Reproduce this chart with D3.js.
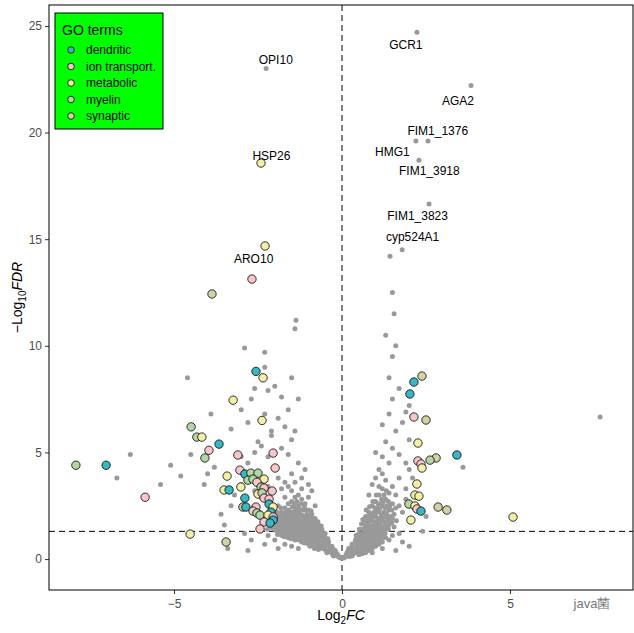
<!DOCTYPE html>
<html>
<head>
<meta charset="utf-8">
<script src="https://cdn.jsdelivr.net/npm/d3@7"></script>
<style>
  body { margin: 0; background: #fff; }
  text { font-family: Arial, "Liberation Sans", sans-serif; }
</style>
</head>
<body>
<div id="chart"></div>
<script>
// GO term categories and fills
var goTerms = ['dendritic', 'ion transport.', 'metabolic', 'myelin', 'synaptic'];
var goColors = ['#3bb6c3', '#f7c6cb', '#f3efa6', '#b3d6a6', '#d1d2a6'];

// gray background genes [log2FC, -log10FDR]
var grayGenes = [
  [-0.1,0.1],[-0.2,0.2],[-0.2,0.4],[-0.3,0.3],[-0.3,0.6],[-0.4,0.4],[-0.4,0.8],[-0.5,0.5],[-0.5,0.9],[-0.5,1.2],
  [-0.6,0.6],[-0.6,1.0],[-0.6,1.4],[-0.7,0.7],[-0.7,1.1],[-0.7,1.6],[-0.8,0.6],[-0.8,1.0],[-0.8,1.4],[-0.8,1.9],
  [-0.9,0.8],[-0.9,1.2],[-0.9,1.7],[-0.9,2.1],[-1.0,0.7],[-1.0,1.0],[-1.0,1.4],[-1.0,1.8],[-1.0,2.3],[-1.1,0.9],
  [-1.1,1.3],[-1.1,1.6],[-1.1,2.0],[-1.1,2.6],[-1.2,0.8],[-1.2,1.1],[-1.2,1.5],[-1.2,1.9],[-1.2,2.3],[-1.2,2.8],
  [-1.3,1.0],[-1.3,1.3],[-1.3,1.7],[-1.3,2.1],[-1.3,2.5],[-1.3,3.0],[-1.4,0.9],[-1.4,1.2],[-1.4,1.6],[-1.4,2.0],
  [-1.4,2.4],[-1.4,2.9],[-1.5,1.1],[-1.5,1.4],[-1.5,1.8],[-1.5,2.2],[-1.5,2.7],[-1.5,3.2],[-1.6,1.0],[-1.6,1.3],
  [-1.6,1.7],[-1.6,2.1],[-1.6,2.6],[-1.7,1.2],[-1.7,1.5],[-1.7,1.9],[-1.7,2.4],[-1.7,2.9],[-1.8,1.1],[-1.8,1.4],
  [-1.8,1.8],[-1.8,2.2],[-1.9,1.3],[-1.9,1.6],[-1.9,2.0],[-1.9,2.5],[-2.0,1.5],[-2.0,1.9],[-2.0,2.3],[-2.1,1.7],[-2.1,2.1],
  [-0.15,0.25],[-0.35,0.45],[-0.45,0.7],[-0.55,0.75],[-0.65,0.85],[-0.65,1.25],[-0.75,0.9],[-0.75,1.3],[-0.85,0.8],
  [-0.85,1.15],[-0.85,1.6],[-0.95,1.0],[-0.95,1.45],[-0.95,1.9],[-1.05,1.15],[-1.05,1.6],[-1.05,2.1],[-1.15,1.05],
  [-1.15,1.45],[-1.15,1.8],[-1.15,2.3],[-1.25,1.2],[-1.25,1.7],[-1.25,2.1],[-1.35,1.1],[-1.35,1.5],[-1.35,1.9],
  [-1.35,2.7],[-1.45,1.3],[-1.45,1.75],[-1.45,2.2],[-1.55,1.2],[-1.55,1.6],[-1.55,2.0],[-1.65,1.45],[-1.65,1.9],
  [-1.75,1.3],[-1.75,1.7],[-1.85,1.55],[-1.85,2.0],[-1.95,1.8],[-0.25,0.15],[-0.45,0.3],[-0.7,0.45],[-0.95,0.6],
  [-0.05,0.05],[-0.12,0.18],[-0.18,0.3],[-0.28,0.22],[-0.28,0.5],[-0.38,0.35],[-0.38,0.62],[-0.42,0.95],[-0.48,0.4],
  [-0.52,0.62],[-0.52,1.05],[-0.58,0.5],[-0.58,0.85],[-0.58,1.2],[-0.62,1.55],[-0.68,0.6],[-0.68,0.98],[-0.68,1.4],
  [-0.72,1.75],[-0.78,0.75],[-0.78,1.15],[-0.78,1.55],[-0.82,0.5],[-0.82,1.25],[-0.82,1.75],[-0.88,0.95],[-0.88,1.4],
  [-0.88,1.9],[-0.92,0.65],[-0.92,1.1],[-0.92,1.55],[-0.92,2.25],[-0.98,0.85],[-0.98,1.25],[-0.98,1.65],[-0.98,2.05],
  [-1.02,0.8],[-1.02,1.5],[-1.02,1.95],[-1.08,1.05],[-1.08,1.4],[-1.08,1.85],[-1.08,2.3],[-1.12,0.75],[-1.12,1.2],
  [-1.12,1.7],[-1.12,2.45],[-1.18,0.95],[-1.18,1.35],[-1.18,1.65],[-1.18,2.05],[-1.22,1.3],[-1.22,1.8],[-1.22,2.6],
  [-1.28,0.9],[-1.28,1.45],[-1.28,1.95],[-1.28,2.35],[-1.32,1.15],[-1.32,1.6],[-1.32,2.25],[-1.38,1.35],[-1.38,1.75],
  [-1.38,2.2],[-1.42,1.05],[-1.42,1.45],[-1.42,1.85],[-1.42,2.6],[-1.48,1.25],[-1.48,1.6],[-1.48,2.0],[-1.48,2.45],
  [-1.52,0.95],[-1.52,1.5],[-1.52,1.9],[-1.58,1.4],[-1.58,1.8],[-1.58,2.3],[-1.62,1.15],[-1.62,1.55],[-1.62,2.0],
  [-1.68,1.35],[-1.68,1.75],[-1.68,2.2],[-1.72,1.05],[-1.72,1.6],[-1.72,2.05],[-1.78,1.25],[-1.78,1.55],[-1.78,1.95],
  [-1.82,1.3],[-1.82,1.7],[-1.82,2.4],[-1.88,1.45],[-1.88,1.8],[-1.92,1.15],[-1.92,1.7],[-1.92,2.2],[-1.98,1.35],
  [-1.98,1.6],[-2.02,1.75],[-2.02,2.1],[-2.08,1.45],[-2.08,1.9],[-2.15,1.6],[-2.18,1.95],[-2.22,1.4],[-2.25,1.75],
  [-1.5,0.6],[-1.7,0.7],[-2.0,0.9],[-2.3,0.7],[-2.7,0.9],[-1.9,0.5],[-1.3,0.5],[-2.2,1.1],[-2.8,0.4],[-3.4,0.5],
  [-1.0,3.5],[-1.2,3.8],[-0.9,3.2],[-1.4,3.6],[-1.6,3.4],[-1.1,4.2],[-1.3,4.5],[-1.5,4.0],[-1.8,3.3],[-1.9,3.8],
  [-1.6,4.9],[-1.8,5.2],[-1.5,5.6],[-1.7,6.2],[-1.9,6.6],[-1.4,6.0],[-2.1,5.8],[-1.6,7.0],[-2.2,7.9],[-1.3,7.5],
  [-1.5,8.5],[-2.3,9.7],[-1.4,10.8],[-1.37,11.2],[-2.3,9.0],[-2.0,8.1],[-1.8,7.6],[-2.1,6.0],[-2.4,5.3],[-2.2,4.8],
  [-2.6,5.0],[-2.8,4.5],[-3.0,3.5],[-3.2,3.0],[-2.6,3.2],[-2.4,2.9],[-3.3,2.5],[-3.6,2.1],[-3.0,4.8],[-3.8,4.3],
  [-4.1,3.5],[-4.8,3.9],[-5.1,4.4],[-4.5,4.9],[-4.6,8.5],[-3.9,6.8],[-3.0,7.0],[-2.8,6.4],[-2.7,7.5],[-2.6,8.0],
  [-6.3,4.9],[-6.7,3.8],[-5.4,3.5],[-3.5,1.6],[-2.9,1.2],[-4.0,4.0],[-2.5,5.5],[-3.3,6.1],[-2.3,6.8],[-2.9,9.9],
  [-2.26,23.0],[-1.2,3.3],[-1.0,2.9],[-0.8,2.5],[-1.7,3.6],[-2.2,3.4],
  [0.1,0.1],[0.2,0.2],[0.2,0.5],[0.3,0.3],[0.3,0.7],[0.4,0.4],[0.4,0.9],[0.5,0.4],[0.5,0.8],[0.5,1.2],
  [0.6,0.5],[0.6,0.9],[0.6,1.4],[0.7,0.6],[0.7,1.0],[0.7,1.5],[0.7,2.0],[0.8,0.7],[0.8,1.1],[0.8,1.6],
  [0.8,2.2],[0.9,0.8],[0.9,1.3],[0.9,1.8],[0.9,2.5],[1.0,0.9],[1.0,1.4],[1.0,2.0],[1.0,2.7],[1.1,1.0],
  [1.1,1.5],[1.1,2.2],[1.1,3.0],[1.2,1.2],[1.2,1.8],[1.2,2.5],[1.2,3.3],[1.3,1.4],[1.3,2.0],[1.3,2.8],
  [1.4,1.6],[1.4,2.3],[1.4,3.1],[1.5,1.9],[1.5,2.6],[0.15,0.3],[0.25,0.4],[0.35,0.5],[0.45,0.6],[0.45,1.0],
  [0.55,0.65],[0.55,1.05],[0.65,0.75],[0.65,1.2],[0.65,1.7],[0.75,0.85],[0.75,1.3],[0.75,1.8],[0.85,0.95],
  [0.85,1.4],[0.85,1.95],[0.95,1.05],[0.95,1.6],[0.95,2.2],[1.05,1.2],[1.05,1.75],[1.05,2.4],[1.15,1.3],
  [1.15,1.9],[1.15,2.6],[1.25,1.55],[1.25,2.2],[1.25,3.0],[1.35,1.8],[1.35,2.5],[1.45,2.0],[0.9,0.5],[1.0,0.6],
  [1.1,0.7],[0.6,0.25],[0.8,0.4],[0.3,0.15],[0.5,0.2],[0.7,0.3],[1.2,0.8],[1.3,1.0],
  [0.05,0.05],[0.12,0.2],[0.18,0.38],[0.22,0.12],[0.28,0.55],[0.32,0.22],[0.38,0.75],[0.42,0.3],[0.42,1.1],
  [0.48,0.55],[0.48,0.95],[0.52,0.3],[0.52,1.4],[0.58,0.7],[0.58,1.15],[0.58,1.65],[0.62,0.4],[0.62,1.05],
  [0.62,1.85],[0.68,0.5],[0.68,0.85],[0.68,1.35],[0.72,0.75],[0.72,1.2],[0.72,1.65],[0.72,2.3],[0.78,0.55],
  [0.78,0.95],[0.78,1.45],[0.78,2.0],[0.82,0.85],[0.82,1.25],[0.82,1.8],[0.82,2.45],[0.88,0.65],[0.88,1.1],
  [0.88,1.55],[0.88,2.1],[0.92,0.95],[0.92,1.4],[0.92,2.0],[0.92,2.7],[0.98,0.75],[0.98,1.2],[0.98,1.75],
  [0.98,2.4],[1.02,1.05],[1.02,1.55],[1.02,2.2],[1.02,3.0],[1.08,0.85],[1.08,1.3],[1.08,1.9],[1.08,2.6],
  [1.12,1.15],[1.12,1.65],[1.12,2.35],[1.18,1.0],[1.18,1.45],[1.18,2.05],[1.18,2.8],[1.22,1.35],[1.22,1.95],
  [1.22,2.65],[1.28,1.2],[1.28,1.7],[1.28,2.4],[1.32,1.55],[1.32,2.15],[1.32,3.2],[1.38,1.4],[1.38,2.0],
  [1.38,2.7],[1.42,1.8],[1.42,2.5],[1.48,1.7],[1.48,2.3],[1.55,2.1],[1.6,2.4],[1.55,1.5],[1.62,1.8],
  [1.8,0.8],[2.0,0.6],[1.6,0.4],[1.4,0.9],[1.5,1.1],[1.7,1.2],[2.4,1.3],[1.2,0.5],[0.9,0.3],
  [0.8,3.0],[0.9,3.5],[1.0,3.8],[1.1,4.2],[1.2,4.0],[1.3,3.7],[1.5,3.4],[1.6,3.0],[1.7,2.5],[1.8,2.2],
  [1.9,3.3],[1.7,3.8],[1.4,4.5],[1.2,4.8],[1.0,5.0],[1.3,5.5],[1.5,5.2],[1.7,4.9],[1.9,4.5],[2.0,4.2],
  [2.1,3.8],[1.6,6.0],[1.8,6.4],[1.2,6.3],[1.4,6.8],[1.5,7.5],[1.9,6.9],[1.7,8.0],[2.0,7.2],[1.4,8.5],
  [1.5,9.5],[1.6,10.0],[1.3,10.5],[1.55,11.5],[1.5,12.5],[1.43,14.2],[1.79,14.5],[2.59,16.65],[2.29,18.7],
  [2.2,19.6],[2.56,19.6],[2.23,24.7],[3.84,22.2],[7.68,6.66],[3.6,4.3],[2.5,2.0],[2.0,5.6],[1.9,2.8],[2.2,3.0],[1.1,3.4]
];

// highlighted genes: [log2FC, -log10FDR, GO index]
var goGenes = [
  [-2.56,8.8,0],[-2.35,8.5,2],[-3.24,7.45,2],[-2.38,6.5,2],[-4.49,6.2,3],[-4.32,5.72,3],[-4.17,5.72,2],
  [-3.66,5.39,0],[-3.96,5.1,1],[-4.08,4.74,3],[-3.1,4.88,1],[-2.05,4.97,1],[-1.99,4.27,1],[-3.04,4.17,1],
  [-2.89,3.99,0],[-2.71,4.03,3],[-2.5,4.03,3],[-3.42,3.89,2],[-2.8,3.7,3],[-2.65,3.75,3],[-2.32,3.75,2],
  [-2.53,3.6,1],[-3.01,3.38,2],[-2.41,3.38,3],[-2.32,3.33,1],[-3.51,3.24,2],[-3.36,3.24,0],[-2.08,3.19,1],
  [-2.5,3.05,2],[-2.38,3.1,3],[-2.89,2.86,0],[-2.32,2.86,1],[-2.17,2.81,1],[-2.17,2.58,0],[-2.05,2.44,2],
  [-2.95,2.44,3],[-2.86,2.44,0],[-2.56,2.44,1],[-2.65,2.25,1],[-2.53,2.16,3],[-2.44,2.06,3],[-2.11,2.2,0],
  [-2.2,2.06,2],[-2.05,1.97,1],[-2.05,1.83,0],[-2.32,1.74,1],[-2.14,1.69,0],[-2.44,1.41,1],[-4.52,1.17,2],
  [-3.45,0.8,4],[-7.92,4.4,3],[-7.02,4.4,0],[-5.86,2.9,1],
  [-2.41,18.57,2],[-2.29,14.68,2],[-2.68,13.13,1],[-3.87,12.43,4],
  [2.38,8.58,4],[2.14,8.3,0],[2.02,7.74,0],[2.14,6.66,1],[2.5,6.52,4],[2.26,5.44,2],[3.42,4.88,0],
  [2.8,4.74,4],[2.62,4.64,3],[2.26,4.6,1],[2.35,4.46,1],[2.38,4.27,2],[2.23,3.52,2],[2.17,3.0,2],
  [2.29,2.95,2],[1.99,2.58,3],[2.17,2.49,2],[2.23,2.35,1],[2.35,2.25,0],[2.86,2.44,4],[3.12,2.3,4],
  [2.05,1.83,2],[5.09,1.97,2]
];

// gene labels: [name, label x, label y]
var geneLabels = [
  ['GCR1', 1.9, 24.1], ['AGA2', 3.45, 21.5], ['FIM1_1376', 2.85, 20.1], ['HMG1', 1.5, 19.1],
  ['FIM1_3918', 2.6, 18.2], ['FIM1_3823', 2.25, 16.1], ['cyp524A1', 2.1, 15.1],
  ['OPI10', -1.97, 23.4], ['HSP26', -2.1, 18.9], ['ARO10', -2.63, 14.1]
];

var xTicks = [-5, 0, 5];
var yTicks = [0, 5, 10, 15, 20, 25];
var fdrCut = 1.3;

var W = 634, H = 633;
var m = {left: 49, right: 1, top: 5, bottom: 43};

var svg = d3.select('#chart').append('svg')
  .attr('width', W).attr('height', H);

var x = d3.scaleLinear().domain([-8.72, 8.66]).range([m.left, W - m.right]);
var y = d3.scaleLinear().domain([-1.45, 25.98]).range([H - m.bottom, m.top]);

svg.append('g')
  .attr('transform', 'translate(0,' + (H - m.bottom) + ')')
  .call(d3.axisBottom(x).tickValues(xTicks).tickSize(4).tickSizeOuter(0))
  .call(function(g){
    g.select('.domain').remove();
    g.selectAll('line').attr('stroke', '#333');
    g.selectAll('text').attr('fill', '#4d4d4d').attr('font-size', 12).attr('dy', '0.9em');
  });

svg.append('g')
  .attr('transform', 'translate(' + m.left + ',0)')
  .call(d3.axisLeft(y).tickValues(yTicks).tickSize(4).tickSizeOuter(0))
  .call(function(g){
    g.select('.domain').remove();
    g.selectAll('line').attr('stroke', '#333');
    g.selectAll('text').attr('fill', '#4d4d4d').attr('font-size', 12);
  });

// threshold lines
svg.append('line')
  .attr('x1', x(0)).attr('x2', x(0)).attr('y1', m.top).attr('y2', H - m.bottom)
  .attr('stroke', '#000').attr('stroke-dasharray', '6,4');
svg.append('line')
  .attr('x1', m.left).attr('x2', W - m.right).attr('y1', y(fdrCut)).attr('y2', y(fdrCut))
  .attr('stroke', '#000').attr('stroke-dasharray', '6,4');

svg.append('g').selectAll('circle')
  .data(grayGenes).enter().append('circle')
    .attr('cx', function(d){ return x(d[0]); })
    .attr('cy', function(d){ return y(d[1]); })
    .attr('r', 2.5)
    .attr('fill', '#999999');

svg.append('g').selectAll('circle')
  .data(goGenes).enter().append('circle')
    .attr('cx', function(d){ return x(d[0]); })
    .attr('cy', function(d){ return y(d[1]); })
    .attr('r', 4.2)
    .attr('fill', function(d){ return goColors[d[2]]; })
    .attr('stroke', '#000').attr('stroke-width', 0.8);

svg.append('g').selectAll('text')
  .data(geneLabels).enter().append('text')
    .attr('x', function(d){ return x(d[1]); })
    .attr('y', function(d){ return y(d[2]); })
    .attr('text-anchor', 'middle').attr('dy', '0.35em')
    .attr('font-size', 12).attr('fill', '#000')
    .text(function(d){ return d[0]; });

// panel border
svg.append('rect')
  .attr('x', m.left).attr('y', m.top)
  .attr('width', W - m.left - m.right).attr('height', H - m.top - m.bottom)
  .attr('fill', 'none').attr('stroke', '#000').attr('stroke-width', 1);

// axis titles
var xt = svg.append('text').attr('x', (m.left + W - m.right) / 2).attr('y', 620)
  .attr('text-anchor', 'middle').attr('font-size', 14);
xt.append('tspan').text('Log');
xt.append('tspan').attr('font-size', 10).attr('dy', 4).text('2');
xt.append('tspan').attr('dy', -4).attr('font-style', 'italic').text('FC');

var yt = svg.append('text')
  .attr('transform', 'translate(22,' + ((m.top + H - m.bottom) / 2) + ') rotate(-90)')
  .attr('text-anchor', 'middle').attr('font-size', 14);
yt.append('tspan').text('\u2212Log');
yt.append('tspan').attr('font-size', 10).attr('dy', 4).text('10');
yt.append('tspan').attr('dy', -4).attr('font-style', 'italic').text('FDR');

// legend
var lg = svg.append('g').attr('transform', 'translate(55,13)');
lg.append('rect').attr('width', 108).attr('height', 116)
  .attr('fill', '#00ff00').attr('stroke', '#000');
lg.append('text').attr('x', 7).attr('y', 22).attr('font-size', 14).text('GO terms');
var items = lg.selectAll('.item').data(goTerms).enter().append('g')
  .attr('transform', function(d, i){ return 'translate(0,' + (37 + i * 16.5) + ')'; });
items.append('circle').attr('cx', 16).attr('cy', 0).attr('r', 3.3)
  .attr('fill', function(d, i){ return goColors[i]; })
  .attr('stroke', '#000').attr('stroke-width', 0.8);
items.append('text').attr('x', 31).attr('y', 0).attr('dy', '0.35em')
  .attr('font-size', 12).text(function(d){ return d; });

// watermark
svg.append('text').attr('x', 592).attr('y', 608).attr('text-anchor', 'middle')
  .attr('font-size', 13).attr('fill', '#777').text('java菌');
</script>
</body>
</html>
